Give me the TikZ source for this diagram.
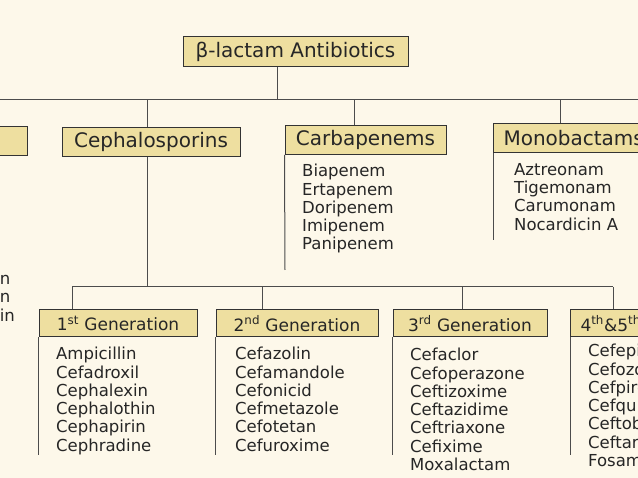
\documentclass[tikz,border=0pt]{standalone}
\usepackage{fontspec}
\setmainfont{DejaVu Sans}
\begin{document}
\begin{tikzpicture}[x=1pt,y=-1pt,
  hd/.style={draw=black!80,line width=1pt,fill=boxc,inner sep=0pt,minimum height=29pt,font=\fontsize{20}{22}\selectfont,text=black!85},
  gen/.style={hd,minimum height=27pt,font=\fontsize{17}{19}\selectfont},
  items/.style={anchor=north west,align=left,inner sep=0pt,font=\fontsize{16.5}{18.3}\selectfont,text=black!85},
  ln/.style={draw=black!70,line width=1pt}]
\definecolor{bg}{HTML}{FDF8EA}
\definecolor{boxc}{HTML}{EEDFA0}
\fill[bg] (0,0) rectangle (638,478);
\clip (0,0) rectangle (638,478);
\useasboundingbox (0,0) rectangle (638,478);
% top
\node[hd,minimum width=225pt,minimum height=30pt] (top) at (295.5,52) {β-lactam Antibiotics};
\coordinate (hub) at (277,100);
\draw[ln] (top.south -| hub) -- (hub);
\coordinate (hl) at (0,100); \coordinate (hr) at (638,100);
\draw[ln] (hl) -- (hr);
% level 1
\node[hd,minimum width=160pt] (pen) at (-53,141.5) {Penicillins};
\node[hd,minimum width=178pt] (ceph) at (151,142) {Cephalosporins};
\node[hd,minimum width=161pt] (carb) at (365.5,140) {Carbapenems};
\node[hd,inner xsep=10pt,anchor=west] (mono) at (493,138.5) {Monobactams};
\coordinate (c1) at (147,100); \draw[ln] (c1) -- (c1 |- ceph.north);
\coordinate (c2) at (354,100); \draw[ln] (c2) -- (c2 |- carb.north);
\coordinate (c3) at (560,100); \draw[ln] (c3) -- (c3 |- mono.north);
% carbapenems
\coordinate (cb) at (285,270); \draw[ln] (carb.south west) -- (cb);
\node[items] (carbl) at (302,164) {Biapenem\\Ertapenem\\Doripenem\\Imipenem\\Panipenem};
\coordinate (mb) at (493,240); \draw[ln] (mono.south west) -- (mb);
\node[items] (monol) at (514,163) {Aztreonam\\Tigemonam\\Carumonam\\Nocardicin A};
% penicillin fragments
\node[items,anchor=north east] (penl) at (15,275) {n\\n\\in};
% cephalosporin tree
\coordinate (cv) at (147,287); \draw[ln] (ceph.south -| cv) -- (cv);
\coordinate (gl) at (72,287); \coordinate (gr) at (613,287);
\draw[ln] (gl) -- (gr);
\node[gen,minimum width=158pt] (g1) at (118,323.5) {1\textsuperscript{st} Generation};
\node[gen,minimum width=162pt] (g2) at (297,323.5) {2\textsuperscript{nd} Generation};
\node[gen,minimum width=154pt] (g3) at (470,323.5) {3\textsuperscript{rd} Generation};
\node[gen,inner xsep=10pt,anchor=west] (g4) at (570,323.5) {4\textsuperscript{th}\&5\textsuperscript{th} Generation};
\foreach \g/\x in {g1/72,g2/262,g3/462,g4/613}{
  \draw[ln] (\x,287) -- (\x,0 |- \g.north);
}
\foreach \g in {g1,g2,g3,g4}{
  \draw[ln] (\g.south west) -- ++(0,118);
}
\node[items] (l1) at (56,347) {Ampicillin\\Cefadroxil\\Cephalexin\\Cephalothin\\Cephapirin\\Cephradine};
\node[items] (l2) at (235,347) {Cefazolin\\Cefamandole\\Cefonicid\\Cefmetazole\\Cefotetan\\Cefuroxime};
\node[items] (l3) at (410,348) {Cefaclor\\Cefoperazone\\Ceftizoxime\\Ceftazidime\\Ceftriaxone\\Cefixime\\Moxalactam};
\node[items] (l4) at (588,344) {Cefepime\\Cefozopran\\Cefpirome\\Cefquinome\\Ceftobiprole\\Ceftaroline\\Fosamycin};
\end{tikzpicture}
\end{document}
